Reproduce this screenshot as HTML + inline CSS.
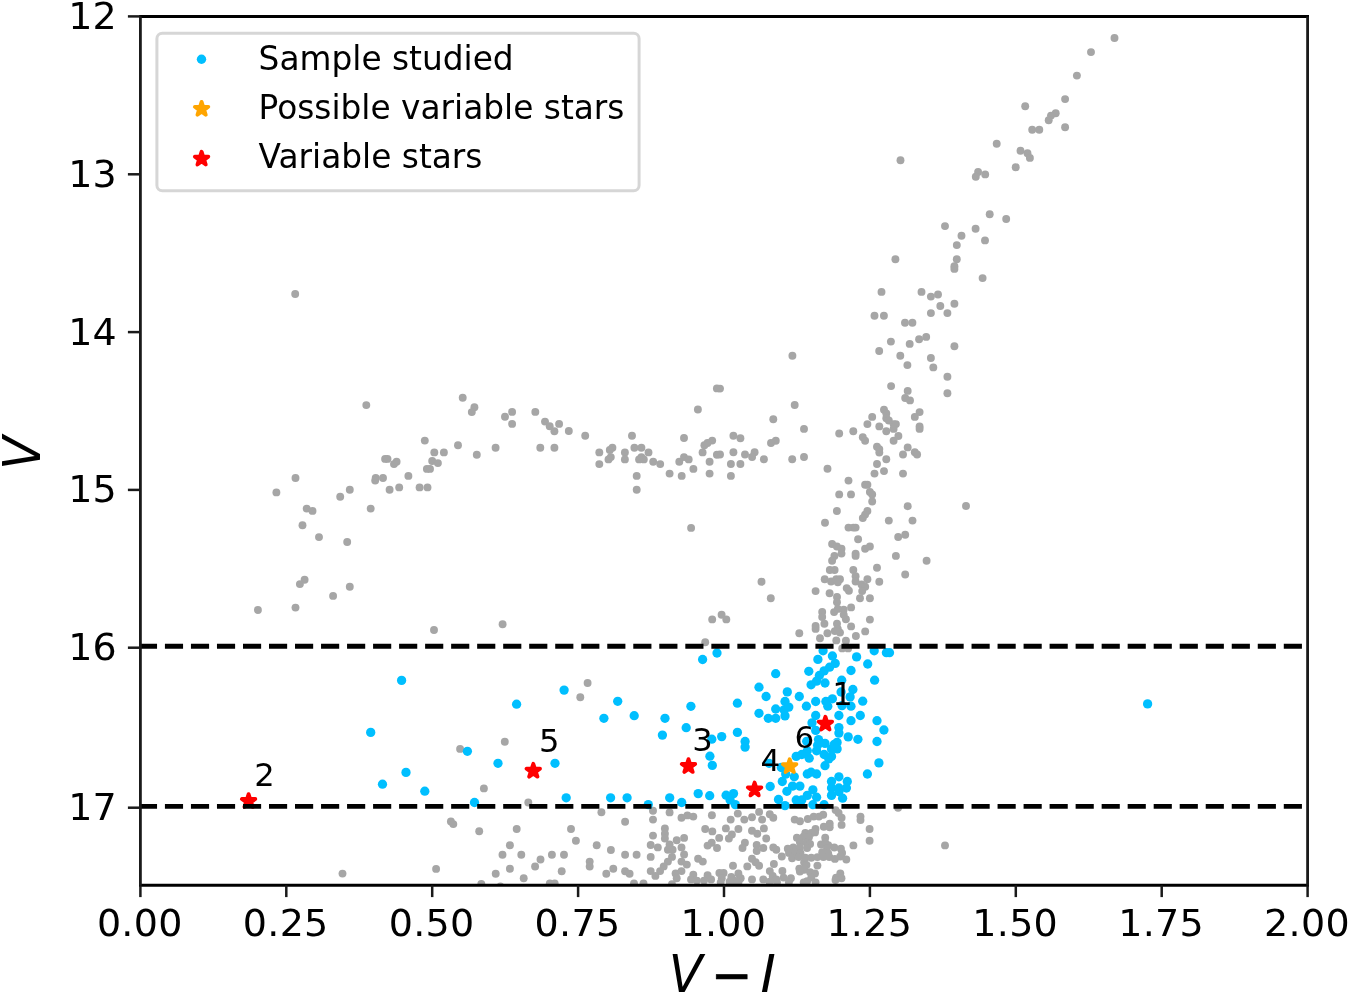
<!DOCTYPE html>
<html lang="en"><head><meta charset="utf-8"><title>CMD</title>
<style>
html,body{margin:0;padding:0;background:#fff;}
body{width:1350px;height:995px;overflow:hidden;}
svg{display:block;}
text{font-family:"DejaVu Sans","Liberation Sans",sans-serif;fill:#000;}
.tk{font-size:38px;letter-spacing:0.3px;}
.lg{font-size:32.8px;}
.an{font-size:32.2px;}
.ax{font-size:52px;font-style:italic;}
</style></head><body>
<svg width="1350" height="995" viewBox="0 0 1350 995">
<defs><clipPath id="c"><rect x="140.4" y="16.4" width="1167.2" height="868.9"/></clipPath>
</defs>
<g>
<rect width="1350" height="995" fill="#fff"/>
<g clip-path="url(#c)">
<g fill="#a6a6a6">
<circle cx="342.5" cy="873.6" r="3.95"/><circle cx="436.1" cy="868.9" r="3.95"/><circle cx="434.0" cy="630.0" r="3.95"/><circle cx="705.2" cy="642.3" r="3.95"/><circle cx="587.6" cy="683.0" r="3.95"/><circle cx="580.3" cy="697.2" r="3.95"/><circle cx="504.8" cy="741.8" r="3.95"/><circle cx="460.1" cy="748.9" r="3.95"/><circle cx="483.9" cy="788.4" r="3.95"/><circle cx="528.3" cy="802.5" r="3.95"/><circle cx="450.9" cy="821.5" r="3.95"/><circle cx="453.3" cy="824.1" r="3.95"/><circle cx="479.2" cy="831.3" r="3.95"/><circle cx="516.7" cy="829.0" r="3.95"/><circle cx="571.0" cy="829.0" r="3.95"/><circle cx="601.4" cy="812.2" r="3.95"/><circle cx="625.1" cy="821.7" r="3.95"/><circle cx="575.9" cy="840.7" r="3.95"/><circle cx="509.9" cy="845.3" r="3.95"/><circle cx="596.7" cy="845.3" r="3.95"/><circle cx="610.9" cy="850.0" r="3.95"/><circle cx="502.5" cy="854.8" r="3.95"/><circle cx="521.3" cy="854.8" r="3.95"/><circle cx="551.9" cy="854.8" r="3.95"/><circle cx="564.0" cy="854.8" r="3.95"/><circle cx="625.1" cy="854.8" r="3.95"/><circle cx="636.6" cy="854.8" r="3.95"/><circle cx="540.5" cy="859.5" r="3.95"/><circle cx="535.1" cy="866.5" r="3.95"/><circle cx="589.7" cy="861.6" r="3.95"/><circle cx="589.7" cy="866.5" r="3.95"/><circle cx="509.9" cy="868.8" r="3.95"/><circle cx="561.7" cy="871.2" r="3.95"/><circle cx="613.3" cy="868.8" r="3.95"/><circle cx="606.3" cy="873.7" r="3.95"/><circle cx="625.1" cy="871.2" r="3.95"/><circle cx="629.6" cy="873.7" r="3.95"/><circle cx="495.7" cy="873.7" r="3.95"/><circle cx="523.7" cy="878.2" r="3.95"/><circle cx="481.3" cy="884.0" r="3.95"/><circle cx="500.4" cy="886.4" r="3.95"/><circle cx="549.8" cy="883.5" r="3.95"/><circle cx="554.7" cy="883.5" r="3.95"/><circle cx="634.0" cy="883.5" r="3.95"/><circle cx="643.5" cy="883.5" r="3.95"/><circle cx="653.0" cy="810.7" r="3.95"/><circle cx="669.6" cy="812.4" r="3.95"/><circle cx="653.0" cy="819.6" r="3.95"/><circle cx="681.5" cy="817.8" r="3.95"/><circle cx="687.4" cy="815.4" r="3.95"/><circle cx="693.3" cy="816.6" r="3.95"/><circle cx="711.9" cy="815.2" r="3.95"/><circle cx="730.7" cy="819.6" r="3.95"/><circle cx="737.8" cy="813.6" r="3.95"/><circle cx="744.3" cy="819.6" r="3.95"/><circle cx="752.0" cy="817.2" r="3.95"/><circle cx="759.1" cy="811.9" r="3.95"/><circle cx="762.1" cy="819.6" r="3.95"/><circle cx="769.8" cy="814.2" r="3.95"/><circle cx="773.3" cy="817.8" r="3.95"/><circle cx="794.7" cy="819.6" r="3.95"/><circle cx="800.0" cy="821.3" r="3.95"/><circle cx="664.9" cy="828.4" r="3.95"/><circle cx="664.9" cy="833.8" r="3.95"/><circle cx="653.0" cy="835.6" r="3.95"/><circle cx="664.9" cy="838.5" r="3.95"/><circle cx="676.7" cy="840.3" r="3.95"/><circle cx="684.1" cy="837.9" r="3.95"/><circle cx="705.2" cy="829.0" r="3.95"/><circle cx="712.3" cy="831.4" r="3.95"/><circle cx="725.9" cy="828.4" r="3.95"/><circle cx="738.4" cy="829.0" r="3.95"/><circle cx="731.9" cy="834.4" r="3.95"/><circle cx="728.9" cy="838.5" r="3.95"/><circle cx="719.2" cy="837.9" r="3.95"/><circle cx="752.0" cy="830.8" r="3.95"/><circle cx="757.3" cy="833.8" r="3.95"/><circle cx="763.9" cy="828.4" r="3.95"/><circle cx="766.2" cy="838.5" r="3.95"/><circle cx="711.7" cy="842.7" r="3.95"/><circle cx="707.6" cy="845.6" r="3.95"/><circle cx="717.0" cy="848.0" r="3.95"/><circle cx="650.7" cy="845.0" r="3.95"/><circle cx="657.8" cy="847.4" r="3.95"/><circle cx="669.6" cy="844.4" r="3.95"/><circle cx="667.9" cy="849.8" r="3.95"/><circle cx="672.6" cy="849.8" r="3.95"/><circle cx="681.5" cy="847.4" r="3.95"/><circle cx="744.9" cy="842.7" r="3.95"/><circle cx="742.5" cy="848.0" r="3.95"/><circle cx="756.7" cy="845.0" r="3.95"/><circle cx="763.3" cy="848.0" r="3.95"/><circle cx="756.7" cy="851.0" r="3.95"/><circle cx="773.3" cy="847.4" r="3.95"/><circle cx="776.3" cy="849.8" r="3.95"/><circle cx="650.7" cy="856.9" r="3.95"/><circle cx="684.1" cy="854.5" r="3.95"/><circle cx="672.0" cy="856.9" r="3.95"/><circle cx="667.9" cy="861.6" r="3.95"/><circle cx="681.5" cy="861.6" r="3.95"/><circle cx="686.8" cy="864.6" r="3.95"/><circle cx="698.1" cy="858.7" r="3.95"/><circle cx="702.8" cy="861.6" r="3.95"/><circle cx="752.0" cy="858.7" r="3.95"/><circle cx="755.6" cy="862.2" r="3.95"/><circle cx="759.1" cy="865.8" r="3.95"/><circle cx="747.3" cy="866.4" r="3.95"/><circle cx="733.0" cy="865.8" r="3.95"/><circle cx="773.9" cy="864.0" r="3.95"/><circle cx="663.7" cy="866.4" r="3.95"/><circle cx="650.7" cy="871.1" r="3.95"/><circle cx="655.4" cy="875.9" r="3.95"/><circle cx="660.1" cy="871.1" r="3.95"/><circle cx="675.6" cy="873.5" r="3.95"/><circle cx="681.5" cy="871.1" r="3.95"/><circle cx="676.7" cy="878.2" r="3.95"/><circle cx="693.3" cy="874.7" r="3.95"/><circle cx="691.0" cy="879.4" r="3.95"/><circle cx="696.9" cy="880.6" r="3.95"/><circle cx="707.6" cy="875.3" r="3.95"/><circle cx="704.0" cy="880.6" r="3.95"/><circle cx="711.1" cy="879.4" r="3.95"/><circle cx="719.4" cy="872.9" r="3.95"/><circle cx="723.6" cy="872.9" r="3.95"/><circle cx="721.8" cy="878.2" r="3.95"/><circle cx="731.3" cy="877.0" r="3.95"/><circle cx="738.4" cy="873.5" r="3.95"/><circle cx="740.7" cy="878.2" r="3.95"/><circle cx="734.8" cy="880.6" r="3.95"/><circle cx="752.0" cy="879.4" r="3.95"/><circle cx="763.3" cy="879.4" r="3.95"/><circle cx="769.8" cy="871.1" r="3.95"/><circle cx="772.7" cy="875.9" r="3.95"/><circle cx="776.3" cy="879.4" r="3.95"/><circle cx="672.0" cy="884.3" r="3.95"/><circle cx="807.8" cy="819.0" r="3.95"/><circle cx="813.7" cy="816.6" r="3.95"/><circle cx="819.0" cy="816.6" r="3.95"/><circle cx="823.2" cy="814.8" r="3.95"/><circle cx="835.6" cy="810.1" r="3.95"/><circle cx="838.6" cy="813.0" r="3.95"/><circle cx="841.6" cy="817.8" r="3.95"/><circle cx="841.6" cy="824.9" r="3.95"/><circle cx="860.5" cy="816.6" r="3.95"/><circle cx="860.5" cy="820.1" r="3.95"/><circle cx="898.1" cy="807.8" r="3.95"/><circle cx="869.6" cy="829.0" r="3.95"/><circle cx="869.6" cy="840.7" r="3.95"/><circle cx="853.4" cy="845.4" r="3.95"/><circle cx="945.0" cy="845.4" r="3.95"/><circle cx="829.7" cy="823.7" r="3.95"/><circle cx="829.7" cy="827.3" r="3.95"/><circle cx="823.8" cy="826.7" r="3.95"/><circle cx="815.5" cy="829.0" r="3.95"/><circle cx="366.3" cy="405.1" r="3.95"/><circle cx="424.8" cy="440.6" r="3.95"/><circle cx="434.3" cy="452.4" r="3.95"/><circle cx="432.2" cy="461.0" r="3.95"/><circle cx="437.9" cy="463.1" r="3.95"/><circle cx="426.9" cy="468.9" r="3.95"/><circle cx="385.1" cy="458.9" r="3.95"/><circle cx="387.5" cy="458.9" r="3.95"/><circle cx="396.6" cy="461.8" r="3.95"/><circle cx="394.0" cy="464.1" r="3.95"/><circle cx="408.4" cy="475.9" r="3.95"/><circle cx="375.7" cy="478.0" r="3.95"/><circle cx="383.0" cy="478.0" r="3.95"/><circle cx="375.2" cy="480.6" r="3.95"/><circle cx="419.6" cy="487.4" r="3.95"/><circle cx="427.5" cy="487.4" r="3.95"/><circle cx="389.6" cy="489.8" r="3.95"/><circle cx="399.2" cy="487.4" r="3.95"/><circle cx="295.5" cy="478.0" r="3.95"/><circle cx="276.4" cy="492.4" r="3.95"/><circle cx="349.8" cy="489.8" r="3.95"/><circle cx="340.2" cy="496.8" r="3.95"/><circle cx="370.7" cy="508.6" r="3.95"/><circle cx="306.7" cy="508.6" r="3.95"/><circle cx="312.5" cy="510.9" r="3.95"/><circle cx="302.5" cy="525.3" r="3.95"/><circle cx="319.0" cy="537.1" r="3.95"/><circle cx="347.2" cy="542.0" r="3.95"/><circle cx="304.6" cy="579.7" r="3.95"/><circle cx="299.9" cy="584.1" r="3.95"/><circle cx="349.8" cy="586.7" r="3.95"/><circle cx="333.1" cy="595.9" r="3.95"/><circle cx="295.5" cy="607.6" r="3.95"/><circle cx="257.9" cy="610.0" r="3.95"/><circle cx="462.7" cy="397.8" r="3.95"/><circle cx="474.4" cy="407.2" r="3.95"/><circle cx="471.8" cy="412.1" r="3.95"/><circle cx="512.1" cy="411.9" r="3.95"/><circle cx="505.0" cy="416.8" r="3.95"/><circle cx="512.1" cy="423.9" r="3.95"/><circle cx="535.3" cy="411.9" r="3.95"/><circle cx="545.0" cy="421.6" r="3.95"/><circle cx="549.7" cy="426.3" r="3.95"/><circle cx="554.4" cy="431.2" r="3.95"/><circle cx="559.1" cy="423.9" r="3.95"/><circle cx="568.8" cy="431.0" r="3.95"/><circle cx="585.2" cy="435.7" r="3.95"/><circle cx="632.0" cy="435.7" r="3.95"/><circle cx="716.9" cy="388.4" r="3.95"/><circle cx="697.9" cy="409.5" r="3.95"/><circle cx="684.0" cy="438.0" r="3.95"/><circle cx="712.2" cy="440.6" r="3.95"/><circle cx="707.5" cy="443.0" r="3.95"/><circle cx="704.4" cy="445.3" r="3.95"/><circle cx="702.6" cy="452.4" r="3.95"/><circle cx="716.9" cy="454.7" r="3.95"/><circle cx="443.9" cy="452.4" r="3.95"/><circle cx="458.0" cy="445.3" r="3.95"/><circle cx="476.8" cy="454.7" r="3.95"/><circle cx="495.6" cy="447.7" r="3.95"/><circle cx="430.0" cy="468.9" r="3.95"/><circle cx="540.3" cy="447.7" r="3.95"/><circle cx="554.4" cy="447.7" r="3.95"/><circle cx="599.3" cy="452.4" r="3.95"/><circle cx="612.4" cy="447.7" r="3.95"/><circle cx="609.8" cy="450.0" r="3.95"/><circle cx="610.8" cy="457.1" r="3.95"/><circle cx="608.5" cy="459.4" r="3.95"/><circle cx="599.3" cy="464.1" r="3.95"/><circle cx="624.9" cy="452.4" r="3.95"/><circle cx="624.9" cy="459.4" r="3.95"/><circle cx="634.4" cy="447.7" r="3.95"/><circle cx="641.4" cy="447.7" r="3.95"/><circle cx="648.5" cy="452.4" r="3.95"/><circle cx="641.4" cy="457.1" r="3.95"/><circle cx="643.8" cy="459.4" r="3.95"/><circle cx="639.1" cy="459.4" r="3.95"/><circle cx="653.2" cy="461.8" r="3.95"/><circle cx="660.2" cy="464.1" r="3.95"/><circle cx="636.7" cy="475.9" r="3.95"/><circle cx="636.7" cy="489.8" r="3.95"/><circle cx="669.6" cy="473.6" r="3.95"/><circle cx="681.7" cy="475.9" r="3.95"/><circle cx="679.3" cy="461.8" r="3.95"/><circle cx="684.0" cy="457.1" r="3.95"/><circle cx="688.7" cy="459.4" r="3.95"/><circle cx="693.4" cy="468.9" r="3.95"/><circle cx="709.6" cy="461.8" r="3.95"/><circle cx="709.6" cy="473.6" r="3.95"/><circle cx="691.1" cy="527.9" r="3.95"/><circle cx="502.6" cy="624.3" r="3.95"/><circle cx="712.2" cy="619.4" r="3.95"/><circle cx="721.6" cy="614.7" r="3.95"/><circle cx="726.3" cy="619.4" r="3.95"/><circle cx="720.0" cy="388.6" r="3.95"/><circle cx="794.7" cy="405.0" r="3.95"/><circle cx="773.3" cy="419.3" r="3.95"/><circle cx="804.0" cy="428.9" r="3.95"/><circle cx="733.4" cy="435.8" r="3.95"/><circle cx="740.4" cy="438.2" r="3.95"/><circle cx="775.8" cy="440.7" r="3.95"/><circle cx="771.0" cy="443.0" r="3.95"/><circle cx="733.4" cy="452.2" r="3.95"/><circle cx="720.0" cy="454.5" r="3.95"/><circle cx="745.0" cy="454.5" r="3.95"/><circle cx="754.6" cy="452.2" r="3.95"/><circle cx="752.1" cy="457.0" r="3.95"/><circle cx="763.9" cy="459.3" r="3.95"/><circle cx="730.9" cy="464.0" r="3.95"/><circle cx="740.4" cy="464.0" r="3.95"/><circle cx="730.9" cy="475.9" r="3.95"/><circle cx="792.2" cy="459.3" r="3.95"/><circle cx="804.0" cy="457.0" r="3.95"/><circle cx="827.5" cy="468.8" r="3.95"/><circle cx="839.2" cy="433.5" r="3.95"/><circle cx="853.3" cy="431.2" r="3.95"/><circle cx="862.8" cy="437.3" r="3.95"/><circle cx="865.1" cy="440.7" r="3.95"/><circle cx="872.2" cy="416.9" r="3.95"/><circle cx="867.4" cy="424.1" r="3.95"/><circle cx="879.3" cy="426.4" r="3.95"/><circle cx="884.0" cy="409.8" r="3.95"/><circle cx="886.3" cy="413.4" r="3.95"/><circle cx="886.3" cy="418.2" r="3.95"/><circle cx="888.8" cy="420.5" r="3.95"/><circle cx="893.6" cy="424.1" r="3.95"/><circle cx="895.9" cy="424.1" r="3.95"/><circle cx="893.6" cy="428.9" r="3.95"/><circle cx="886.3" cy="431.2" r="3.95"/><circle cx="898.4" cy="436.0" r="3.95"/><circle cx="893.6" cy="440.7" r="3.95"/><circle cx="891.1" cy="386.1" r="3.95"/><circle cx="907.7" cy="390.9" r="3.95"/><circle cx="905.2" cy="398.0" r="3.95"/><circle cx="910.0" cy="400.4" r="3.95"/><circle cx="919.6" cy="412.1" r="3.95"/><circle cx="914.8" cy="416.9" r="3.95"/><circle cx="919.6" cy="426.4" r="3.95"/><circle cx="919.6" cy="428.9" r="3.95"/><circle cx="877.0" cy="446.8" r="3.95"/><circle cx="879.3" cy="449.1" r="3.95"/><circle cx="879.3" cy="452.6" r="3.95"/><circle cx="886.3" cy="459.3" r="3.95"/><circle cx="877.0" cy="464.0" r="3.95"/><circle cx="884.0" cy="471.1" r="3.95"/><circle cx="874.5" cy="473.6" r="3.95"/><circle cx="907.7" cy="447.4" r="3.95"/><circle cx="903.0" cy="454.5" r="3.95"/><circle cx="914.8" cy="452.2" r="3.95"/><circle cx="917.1" cy="454.5" r="3.95"/><circle cx="903.0" cy="473.6" r="3.95"/><circle cx="848.5" cy="480.6" r="3.95"/><circle cx="865.1" cy="484.8" r="3.95"/><circle cx="867.4" cy="484.8" r="3.95"/><circle cx="869.9" cy="491.9" r="3.95"/><circle cx="872.2" cy="494.4" r="3.95"/><circle cx="872.2" cy="501.5" r="3.95"/><circle cx="839.2" cy="494.4" r="3.95"/><circle cx="851.0" cy="494.4" r="3.95"/><circle cx="836.9" cy="511.0" r="3.95"/><circle cx="867.4" cy="511.0" r="3.95"/><circle cx="865.1" cy="514.6" r="3.95"/><circle cx="862.8" cy="518.1" r="3.95"/><circle cx="825.0" cy="522.8" r="3.95"/><circle cx="848.5" cy="527.6" r="3.95"/><circle cx="853.3" cy="527.6" r="3.95"/><circle cx="855.6" cy="527.6" r="3.95"/><circle cx="907.7" cy="506.2" r="3.95"/><circle cx="888.8" cy="520.6" r="3.95"/><circle cx="912.5" cy="520.6" r="3.95"/><circle cx="898.2" cy="537.0" r="3.95"/><circle cx="905.2" cy="534.7" r="3.95"/><circle cx="858.1" cy="539.3" r="3.95"/><circle cx="832.1" cy="544.0" r="3.95"/><circle cx="836.9" cy="546.5" r="3.95"/><circle cx="841.5" cy="548.8" r="3.95"/><circle cx="841.5" cy="553.6" r="3.95"/><circle cx="834.4" cy="555.9" r="3.95"/><circle cx="832.1" cy="560.7" r="3.95"/><circle cx="855.6" cy="553.6" r="3.95"/><circle cx="855.6" cy="555.9" r="3.95"/><circle cx="865.1" cy="548.8" r="3.95"/><circle cx="869.9" cy="546.5" r="3.95"/><circle cx="895.9" cy="555.9" r="3.95"/><circle cx="926.6" cy="560.7" r="3.95"/><circle cx="877.0" cy="567.7" r="3.95"/><circle cx="853.3" cy="570.0" r="3.95"/><circle cx="829.8" cy="570.0" r="3.95"/><circle cx="834.6" cy="570.0" r="3.95"/><circle cx="761.5" cy="581.8" r="3.95"/><circle cx="770.8" cy="598.2" r="3.95"/><circle cx="799.3" cy="633.3" r="3.95"/><circle cx="905.2" cy="574.5" r="3.95"/><circle cx="824.7" cy="579.3" r="3.95"/><circle cx="831.1" cy="581.5" r="3.95"/><circle cx="836.3" cy="579.3" r="3.95"/><circle cx="840.0" cy="579.3" r="3.95"/><circle cx="837.8" cy="582.2" r="3.95"/><circle cx="855.6" cy="576.3" r="3.95"/><circle cx="855.6" cy="581.5" r="3.95"/><circle cx="867.4" cy="579.3" r="3.95"/><circle cx="879.3" cy="581.8" r="3.95"/><circle cx="861.5" cy="584.4" r="3.95"/><circle cx="865.2" cy="586.7" r="3.95"/><circle cx="862.2" cy="591.1" r="3.95"/><circle cx="846.7" cy="588.1" r="3.95"/><circle cx="848.9" cy="590.8" r="3.95"/><circle cx="815.6" cy="591.1" r="3.95"/><circle cx="829.6" cy="593.3" r="3.95"/><circle cx="837.0" cy="597.0" r="3.95"/><circle cx="837.0" cy="602.2" r="3.95"/><circle cx="860.0" cy="598.2" r="3.95"/><circle cx="869.9" cy="598.2" r="3.95"/><circle cx="851.1" cy="607.4" r="3.95"/><circle cx="843.7" cy="609.6" r="3.95"/><circle cx="837.8" cy="608.9" r="3.95"/><circle cx="834.1" cy="612.1" r="3.95"/><circle cx="822.2" cy="611.9" r="3.95"/><circle cx="822.2" cy="617.0" r="3.95"/><circle cx="843.7" cy="614.8" r="3.95"/><circle cx="845.9" cy="619.3" r="3.95"/><circle cx="869.9" cy="619.6" r="3.95"/><circle cx="824.4" cy="623.7" r="3.95"/><circle cx="837.0" cy="623.7" r="3.95"/><circle cx="815.6" cy="625.9" r="3.95"/><circle cx="815.6" cy="628.9" r="3.95"/><circle cx="851.1" cy="626.4" r="3.95"/><circle cx="837.8" cy="628.9" r="3.95"/><circle cx="865.2" cy="631.4" r="3.95"/><circle cx="827.4" cy="633.3" r="3.95"/><circle cx="834.8" cy="631.1" r="3.95"/><circle cx="840.0" cy="632.6" r="3.95"/><circle cx="820.0" cy="638.2" r="3.95"/><circle cx="855.9" cy="636.0" r="3.95"/><circle cx="836.3" cy="640.4" r="3.95"/><circle cx="845.9" cy="640.7" r="3.95"/><circle cx="842.2" cy="648.4" r="3.95"/><circle cx="848.1" cy="648.4" r="3.95"/><circle cx="989.7" cy="214.3" r="3.95"/><circle cx="1006.2" cy="219.0" r="3.95"/><circle cx="945.0" cy="226.1" r="3.95"/><circle cx="975.6" cy="228.7" r="3.95"/><circle cx="961.5" cy="235.7" r="3.95"/><circle cx="985.0" cy="240.4" r="3.95"/><circle cx="956.8" cy="245.1" r="3.95"/><circle cx="895.4" cy="259.3" r="3.95"/><circle cx="956.8" cy="259.3" r="3.95"/><circle cx="954.4" cy="266.3" r="3.95"/><circle cx="954.4" cy="268.9" r="3.95"/><circle cx="982.6" cy="278.1" r="3.95"/><circle cx="881.5" cy="291.9" r="3.95"/><circle cx="921.5" cy="291.9" r="3.95"/><circle cx="930.9" cy="296.6" r="3.95"/><circle cx="938.0" cy="294.5" r="3.95"/><circle cx="954.4" cy="303.7" r="3.95"/><circle cx="940.3" cy="306.0" r="3.95"/><circle cx="930.9" cy="313.1" r="3.95"/><circle cx="947.4" cy="313.1" r="3.95"/><circle cx="874.5" cy="315.7" r="3.95"/><circle cx="883.9" cy="315.7" r="3.95"/><circle cx="905.0" cy="322.8" r="3.95"/><circle cx="912.4" cy="322.8" r="3.95"/><circle cx="926.2" cy="336.9" r="3.95"/><circle cx="919.1" cy="339.2" r="3.95"/><circle cx="909.7" cy="343.9" r="3.95"/><circle cx="890.9" cy="341.6" r="3.95"/><circle cx="879.2" cy="351.0" r="3.95"/><circle cx="900.3" cy="355.7" r="3.95"/><circle cx="954.4" cy="346.3" r="3.95"/><circle cx="930.9" cy="358.0" r="3.95"/><circle cx="933.3" cy="367.4" r="3.95"/><circle cx="907.4" cy="365.1" r="3.95"/><circle cx="947.4" cy="376.8" r="3.95"/><circle cx="792.4" cy="355.7" r="3.95"/><circle cx="947.4" cy="393.3" r="3.95"/><circle cx="1114.5" cy="38.0" r="3.95"/><circle cx="1091.0" cy="52.1" r="3.95"/><circle cx="1076.9" cy="75.6" r="3.95"/><circle cx="1065.1" cy="99.1" r="3.95"/><circle cx="1025.2" cy="106.2" r="3.95"/><circle cx="1055.7" cy="113.2" r="3.95"/><circle cx="1051.0" cy="115.6" r="3.95"/><circle cx="1048.7" cy="120.3" r="3.95"/><circle cx="1065.1" cy="127.3" r="3.95"/><circle cx="1032.2" cy="129.7" r="3.95"/><circle cx="1039.3" cy="129.7" r="3.95"/><circle cx="996.7" cy="143.8" r="3.95"/><circle cx="1020.5" cy="150.8" r="3.95"/><circle cx="1027.5" cy="153.2" r="3.95"/><circle cx="1029.9" cy="157.9" r="3.95"/><circle cx="1015.7" cy="167.3" r="3.95"/><circle cx="900.5" cy="160.3" r="3.95"/><circle cx="978.1" cy="172.0" r="3.95"/><circle cx="985.2" cy="174.4" r="3.95"/><circle cx="975.8" cy="176.7" r="3.95"/><circle cx="295.2" cy="294.0" r="3.95"/><circle cx="966.0" cy="506.0" r="3.95"/><circle cx="805.3" cy="833.0" r="3.95"/><circle cx="811.3" cy="833.0" r="3.95"/><circle cx="815.0" cy="832.4" r="3.95"/><circle cx="796.9" cy="837.8" r="3.95"/><circle cx="803.5" cy="836.6" r="3.95"/><circle cx="808.9" cy="837.2" r="3.95"/><circle cx="825.2" cy="837.8" r="3.95"/><circle cx="799.9" cy="842.1" r="3.95"/><circle cx="806.5" cy="842.7" r="3.95"/><circle cx="810.1" cy="843.9" r="3.95"/><circle cx="821.0" cy="844.5" r="3.95"/><circle cx="825.2" cy="842.7" r="3.95"/><circle cx="828.2" cy="845.1" r="3.95"/><circle cx="787.8" cy="848.7" r="3.95"/><circle cx="793.3" cy="847.5" r="3.95"/><circle cx="799.9" cy="847.5" r="3.95"/><circle cx="807.1" cy="848.1" r="3.95"/><circle cx="827.0" cy="848.1" r="3.95"/><circle cx="834.3" cy="847.5" r="3.95"/><circle cx="840.9" cy="848.7" r="3.95"/><circle cx="789.0" cy="852.9" r="3.95"/><circle cx="795.1" cy="852.3" r="3.95"/><circle cx="800.5" cy="852.9" r="3.95"/><circle cx="781.8" cy="856.5" r="3.95"/><circle cx="822.2" cy="852.3" r="3.95"/><circle cx="828.2" cy="853.5" r="3.95"/><circle cx="842.1" cy="852.9" r="3.95"/><circle cx="792.1" cy="858.3" r="3.95"/><circle cx="798.7" cy="857.1" r="3.95"/><circle cx="805.3" cy="857.7" r="3.95"/><circle cx="811.3" cy="857.7" r="3.95"/><circle cx="817.4" cy="857.1" r="3.95"/><circle cx="823.4" cy="857.1" r="3.95"/><circle cx="829.4" cy="857.1" r="3.95"/><circle cx="834.9" cy="858.9" r="3.95"/><circle cx="840.3" cy="856.5" r="3.95"/><circle cx="846.3" cy="859.5" r="3.95"/><circle cx="804.1" cy="862.6" r="3.95"/><circle cx="806.5" cy="865.0" r="3.95"/><circle cx="817.4" cy="865.6" r="3.95"/><circle cx="799.3" cy="868.6" r="3.95"/><circle cx="804.1" cy="869.8" r="3.95"/><circle cx="799.9" cy="871.6" r="3.95"/><circle cx="810.1" cy="872.2" r="3.95"/><circle cx="815.0" cy="873.4" r="3.95"/><circle cx="782.4" cy="871.0" r="3.95"/><circle cx="783.6" cy="877.6" r="3.95"/><circle cx="790.9" cy="878.2" r="3.95"/><circle cx="811.3" cy="877.6" r="3.95"/><circle cx="807.1" cy="881.2" r="3.95"/><circle cx="836.1" cy="877.6" r="3.95"/><circle cx="840.3" cy="873.4" r="3.95"/><circle cx="841.5" cy="878.2" r="3.95"/><circle cx="835.5" cy="880.0" r="3.95"/><circle cx="720.7" cy="882.4" r="3.95"/><circle cx="729.6" cy="881.7" r="3.95"/><circle cx="738.5" cy="882.4" r="3.95"/><circle cx="769.6" cy="881.7" r="3.95"/><circle cx="777.0" cy="882.4" r="3.95"/><circle cx="788.9" cy="882.4" r="3.95"/><circle cx="803.7" cy="882.4" r="3.95"/><circle cx="815.6" cy="882.4" r="3.95"/>
</g>
<g fill="#00bfff">
<circle cx="401.6" cy="680.4" r="4.65"/><circle cx="370.7" cy="732.4" r="4.65"/><circle cx="406.0" cy="772.4" r="4.65"/><circle cx="382.5" cy="784.2" r="4.65"/><circle cx="424.8" cy="791.2" r="4.65"/><circle cx="702.6" cy="659.5" r="4.65"/><circle cx="717.0" cy="653.0" r="4.65"/><circle cx="564.1" cy="690.1" r="4.65"/><circle cx="516.6" cy="704.2" r="4.65"/><circle cx="617.7" cy="701.3" r="4.65"/><circle cx="690.9" cy="706.3" r="4.65"/><circle cx="737.4" cy="703.2" r="4.65"/><circle cx="603.9" cy="718.3" r="4.65"/><circle cx="634.2" cy="715.7" r="4.65"/><circle cx="665.0" cy="718.3" r="4.65"/><circle cx="686.2" cy="727.7" r="4.65"/><circle cx="662.4" cy="735.1" r="4.65"/><circle cx="737.4" cy="732.4" r="4.65"/><circle cx="721.7" cy="736.6" r="4.65"/><circle cx="711.8" cy="739.2" r="4.65"/><circle cx="467.4" cy="751.3" r="4.65"/><circle cx="498.0" cy="763.3" r="4.65"/><circle cx="555.0" cy="763.3" r="4.65"/><circle cx="709.9" cy="756.2" r="4.65"/><circle cx="712.3" cy="765.4" r="4.65"/><circle cx="474.5" cy="802.5" r="4.65"/><circle cx="566.2" cy="797.8" r="4.65"/><circle cx="610.6" cy="797.8" r="4.65"/><circle cx="627.1" cy="797.8" r="4.65"/><circle cx="648.3" cy="804.6" r="4.65"/><circle cx="669.7" cy="797.8" r="4.65"/><circle cx="681.7" cy="802.5" r="4.65"/><circle cx="698.2" cy="793.6" r="4.65"/><circle cx="709.7" cy="795.7" r="4.65"/><circle cx="726.1" cy="795.2" r="4.65"/><circle cx="733.5" cy="793.6" r="4.65"/><circle cx="730.1" cy="799.9" r="4.65"/><circle cx="735.3" cy="804.6" r="4.65"/><circle cx="823.1" cy="650.8" r="4.65"/><circle cx="832.4" cy="656.0" r="4.65"/><circle cx="817.9" cy="659.4" r="4.65"/><circle cx="856.6" cy="656.9" r="4.65"/><circle cx="874.2" cy="650.8" r="4.65"/><circle cx="867.7" cy="664.0" r="4.65"/><circle cx="835.2" cy="663.4" r="4.65"/><circle cx="829.6" cy="667.2" r="4.65"/><circle cx="824.1" cy="670.9" r="4.65"/><circle cx="808.8" cy="671.3" r="4.65"/><circle cx="851.0" cy="670.5" r="4.65"/><circle cx="819.4" cy="675.5" r="4.65"/><circle cx="775.7" cy="673.7" r="4.65"/><circle cx="816.6" cy="681.1" r="4.65"/><circle cx="811.1" cy="684.8" r="4.65"/><circle cx="825.0" cy="683.0" r="4.65"/><circle cx="841.7" cy="680.2" r="4.65"/><circle cx="874.6" cy="680.2" r="4.65"/><circle cx="759.0" cy="687.2" r="4.65"/><circle cx="852.9" cy="689.5" r="4.65"/><circle cx="787.3" cy="691.9" r="4.65"/><circle cx="766.1" cy="696.5" r="4.65"/><circle cx="799.3" cy="696.5" r="4.65"/><circle cx="850.1" cy="696.9" r="4.65"/><circle cx="785.0" cy="701.5" r="4.65"/><circle cx="815.7" cy="701.5" r="4.65"/><circle cx="825.9" cy="701.5" r="4.65"/><circle cx="832.4" cy="698.8" r="4.65"/><circle cx="862.7" cy="701.2" r="4.65"/><circle cx="806.4" cy="706.2" r="4.65"/><circle cx="827.8" cy="706.2" r="4.65"/><circle cx="851.0" cy="706.2" r="4.65"/><circle cx="775.7" cy="709.0" r="4.65"/><circle cx="784.1" cy="709.9" r="4.65"/><circle cx="788.8" cy="707.1" r="4.65"/><circle cx="759.0" cy="713.3" r="4.65"/><circle cx="785.0" cy="715.9" r="4.65"/><circle cx="768.3" cy="718.3" r="4.65"/><circle cx="775.7" cy="718.3" r="4.65"/><circle cx="815.7" cy="715.5" r="4.65"/><circle cx="838.9" cy="715.5" r="4.65"/><circle cx="860.3" cy="715.5" r="4.65"/><circle cx="851.0" cy="720.7" r="4.65"/><circle cx="877.0" cy="720.7" r="4.65"/><circle cx="812.0" cy="722.9" r="4.65"/><circle cx="838.9" cy="727.6" r="4.65"/><circle cx="838.9" cy="733.1" r="4.65"/><circle cx="848.2" cy="736.9" r="4.65"/><circle cx="857.9" cy="739.3" r="4.65"/><circle cx="745.1" cy="741.5" r="4.65"/><circle cx="745.1" cy="747.1" r="4.65"/><circle cx="877.0" cy="741.5" r="4.65"/><circle cx="818.5" cy="739.6" r="4.65"/><circle cx="817.6" cy="745.2" r="4.65"/><circle cx="825.0" cy="743.4" r="4.65"/><circle cx="831.5" cy="748.9" r="4.65"/><circle cx="837.1" cy="742.4" r="4.65"/><circle cx="837.1" cy="748.9" r="4.65"/><circle cx="816.6" cy="750.8" r="4.65"/><circle cx="824.1" cy="754.5" r="4.65"/><circle cx="831.5" cy="756.4" r="4.65"/><circle cx="807.3" cy="750.8" r="4.65"/><circle cx="801.8" cy="754.5" r="4.65"/><circle cx="796.2" cy="756.4" r="4.65"/><circle cx="809.2" cy="758.2" r="4.65"/><circle cx="825.0" cy="765.7" r="4.65"/><circle cx="878.9" cy="762.9" r="4.65"/><circle cx="769.1" cy="763.3" r="4.65"/><circle cx="781.3" cy="767.5" r="4.65"/><circle cx="794.3" cy="776.8" r="4.65"/><circle cx="807.3" cy="774.0" r="4.65"/><circle cx="811.1" cy="772.2" r="4.65"/><circle cx="816.6" cy="774.0" r="4.65"/><circle cx="867.4" cy="774.0" r="4.65"/><circle cx="782.3" cy="781.5" r="4.65"/><circle cx="838.9" cy="776.8" r="4.65"/><circle cx="831.5" cy="781.5" r="4.65"/><circle cx="847.3" cy="781.5" r="4.65"/><circle cx="770.2" cy="786.5" r="4.65"/><circle cx="792.5" cy="786.1" r="4.65"/><circle cx="799.9" cy="786.1" r="4.65"/><circle cx="786.9" cy="791.3" r="4.65"/><circle cx="812.9" cy="789.8" r="4.65"/><circle cx="807.3" cy="795.4" r="4.65"/><circle cx="816.6" cy="797.2" r="4.65"/><circle cx="831.5" cy="788.0" r="4.65"/><circle cx="838.9" cy="788.0" r="4.65"/><circle cx="846.4" cy="788.0" r="4.65"/><circle cx="831.5" cy="795.4" r="4.65"/><circle cx="842.6" cy="798.2" r="4.65"/><circle cx="838.9" cy="791.7" r="4.65"/><circle cx="778.5" cy="799.5" r="4.65"/><circle cx="796.2" cy="800.0" r="4.65"/><circle cx="801.8" cy="800.0" r="4.65"/><circle cx="785.0" cy="805.6" r="4.65"/><circle cx="812.9" cy="804.7" r="4.65"/><circle cx="824.1" cy="804.7" r="4.65"/><circle cx="886.4" cy="652.7" r="4.65"/><circle cx="889.5" cy="652.7" r="4.65"/><circle cx="883.9" cy="730.0" r="4.65"/><circle cx="1147.6" cy="703.9" r="4.65"/><circle cx="841.1" cy="692.0" r="4.65"/><circle cx="842.0" cy="705.6" r="4.65"/><circle cx="806.7" cy="741.3" r="4.65"/><circle cx="815.7" cy="730.4" r="4.65"/><circle cx="834.3" cy="744.4" r="4.65"/><circle cx="828.8" cy="758.9" r="4.65"/><circle cx="785.7" cy="774.1" r="4.65"/>
</g>
<polygon points="0.00,-7.10 1.59,-2.19 6.75,-2.19 2.58,0.84 4.17,5.74 0.00,2.71 -4.17,5.74 -2.58,0.84 -6.75,-2.19 -1.59,-2.19" transform="translate(789.7,766.3)" fill="#ffa500" stroke="#ffa500" stroke-width="3.8" stroke-linejoin="round"/>
<polygon points="0.00,-7.10 1.59,-2.19 6.75,-2.19 2.58,0.84 4.17,5.74 0.00,2.71 -4.17,5.74 -2.58,0.84 -6.75,-2.19 -1.59,-2.19" transform="translate(248.6,801.2)" fill="#ff0000" stroke="#ff0000" stroke-width="3.8" stroke-linejoin="round"/>
<polygon points="0.00,-7.10 1.59,-2.19 6.75,-2.19 2.58,0.84 4.17,5.74 0.00,2.71 -4.17,5.74 -2.58,0.84 -6.75,-2.19 -1.59,-2.19" transform="translate(533.3,770.9)" fill="#ff0000" stroke="#ff0000" stroke-width="3.8" stroke-linejoin="round"/>
<polygon points="0.00,-7.10 1.59,-2.19 6.75,-2.19 2.58,0.84 4.17,5.74 0.00,2.71 -4.17,5.74 -2.58,0.84 -6.75,-2.19 -1.59,-2.19" transform="translate(688.5,766.2)" fill="#ff0000" stroke="#ff0000" stroke-width="3.8" stroke-linejoin="round"/>
<polygon points="0.00,-7.10 1.59,-2.19 6.75,-2.19 2.58,0.84 4.17,5.74 0.00,2.71 -4.17,5.74 -2.58,0.84 -6.75,-2.19 -1.59,-2.19" transform="translate(825.4,723.8)" fill="#ff0000" stroke="#ff0000" stroke-width="3.8" stroke-linejoin="round"/>
<polygon points="0.00,-7.10 1.59,-2.19 6.75,-2.19 2.58,0.84 4.17,5.74 0.00,2.71 -4.17,5.74 -2.58,0.84 -6.75,-2.19 -1.59,-2.19" transform="translate(754.6,789.6)" fill="#ff0000" stroke="#ff0000" stroke-width="3.8" stroke-linejoin="round"/>
<line x1="140.4" y1="646.3" x2="1307.6" y2="646.3" stroke="#000" stroke-width="4.9" stroke-dasharray="18.15 7.87" stroke-dashoffset="1.5"/>
<line x1="140.4" y1="806.4" x2="1307.6" y2="806.4" stroke="#000" stroke-width="4.9" stroke-dasharray="18.15 7.87" stroke-dashoffset="1.5"/>
</g>
<text class="an" x="254.2" y="785.5">2</text>
<text class="an" x="538.9" y="752.4">5</text>
<text class="an" x="692.2" y="750.6">3</text>
<text class="an" x="832.2" y="705.3">1</text>
<text class="an" style="font-size:31px" x="794.6" y="747.6">6</text>
<text class="an" style="font-size:31px" x="760.6" y="771.0">4</text>
<path d="M139.0 16.4H1309.0M139.0 885.3H1309.0" fill="none" stroke="#000" stroke-width="3"/>
<path d="M140.4 16.4V885.3M1307.6 16.4V885.3" fill="none" stroke="#1a1a1a" stroke-width="2.8"/>
<g stroke="#1a1a1a" stroke-width="2.5">
<line x1="140.4" y1="885.3" x2="140.4" y2="897.1"/><line x1="286.3" y1="885.3" x2="286.3" y2="897.1"/><line x1="432.2" y1="885.3" x2="432.2" y2="897.1"/><line x1="578.1" y1="885.3" x2="578.1" y2="897.1"/><line x1="724.0" y1="885.3" x2="724.0" y2="897.1"/><line x1="869.9" y1="885.3" x2="869.9" y2="897.1"/><line x1="1015.8" y1="885.3" x2="1015.8" y2="897.1"/><line x1="1161.7" y1="885.3" x2="1161.7" y2="897.1"/><line x1="1307.6" y1="885.3" x2="1307.6" y2="897.1"/><line x1="127.9" y1="16.4" x2="140.4" y2="16.4"/><line x1="127.9" y1="174.3" x2="140.4" y2="174.3"/><line x1="127.9" y1="332.1" x2="140.4" y2="332.1"/><line x1="127.9" y1="489.9" x2="140.4" y2="489.9"/><line x1="127.9" y1="647.7" x2="140.4" y2="647.7"/><line x1="127.9" y1="807.7" x2="140.4" y2="807.7"/>
</g>
<text class="tk" text-anchor="middle" x="139.8" y="935.5">0.00</text>
<text class="tk" text-anchor="middle" x="285.7" y="935.5">0.25</text>
<text class="tk" text-anchor="middle" x="431.6" y="935.5">0.50</text>
<text class="tk" text-anchor="middle" x="577.5" y="935.5">0.75</text>
<text class="tk" text-anchor="middle" x="723.4" y="935.5">1.00</text>
<text class="tk" text-anchor="middle" x="869.3" y="935.5">1.25</text>
<text class="tk" text-anchor="middle" x="1015.2" y="935.5">1.50</text>
<text class="tk" text-anchor="middle" x="1161.1" y="935.5">1.75</text>
<text class="tk" text-anchor="middle" x="1307.0" y="935.5">2.00</text>
<text class="tk" style="letter-spacing:0" text-anchor="end" x="116.6" y="28.8">12</text>
<text class="tk" style="letter-spacing:0" text-anchor="end" x="116.6" y="186.7">13</text>
<text class="tk" style="letter-spacing:0" text-anchor="end" x="116.6" y="344.5">14</text>
<text class="tk" style="letter-spacing:0" text-anchor="end" x="116.6" y="501.9">15</text>
<text class="tk" style="letter-spacing:0" text-anchor="end" x="116.6" y="660.1">16</text>
<text class="tk" style="letter-spacing:0" text-anchor="end" x="116.6" y="820.1">17</text>
<text class="ax" transform="translate(668.7,992.3) scale(0.95,1)">V</text>
<text class="ax" style="font-style:normal" stroke="#000" stroke-width="0.7" transform="translate(710.9,992.7) scale(0.95,1)">−</text>
<text class="ax" x="760.4" y="992.3">I</text>
<text class="ax" transform="translate(40.2,469.7) rotate(-90) scale(0.94,1)">V</text>
<rect x="156.9" y="33.2" width="482.2" height="157.6" rx="5.5" ry="5.5" fill="#fff" fill-opacity="0.8" stroke="#cccccc" stroke-opacity="0.8" stroke-width="3"/>
<circle cx="201.5" cy="59.2" r="4.7" fill="#00bfff"/>
<polygon points="0.00,-7.10 1.59,-2.19 6.75,-2.19 2.58,0.84 4.17,5.74 0.00,2.71 -4.17,5.74 -2.58,0.84 -6.75,-2.19 -1.59,-2.19" transform="translate(201.6,109.0)" fill="#ffa500" stroke="#ffa500" stroke-width="3.8" stroke-linejoin="round"/>
<polygon points="0.00,-7.10 1.59,-2.19 6.75,-2.19 2.58,0.84 4.17,5.74 0.00,2.71 -4.17,5.74 -2.58,0.84 -6.75,-2.19 -1.59,-2.19" transform="translate(201.6,158.8)" fill="#ff0000" stroke="#ff0000" stroke-width="3.8" stroke-linejoin="round"/>
<text class="lg" x="258.6" y="69.9">Sample studied</text>
<text class="lg" x="258.6" y="118.9">Possible variable stars</text>
<text class="lg" x="258.6" y="167.6">Variable stars</text>
</g>
</svg>
</body></html>
